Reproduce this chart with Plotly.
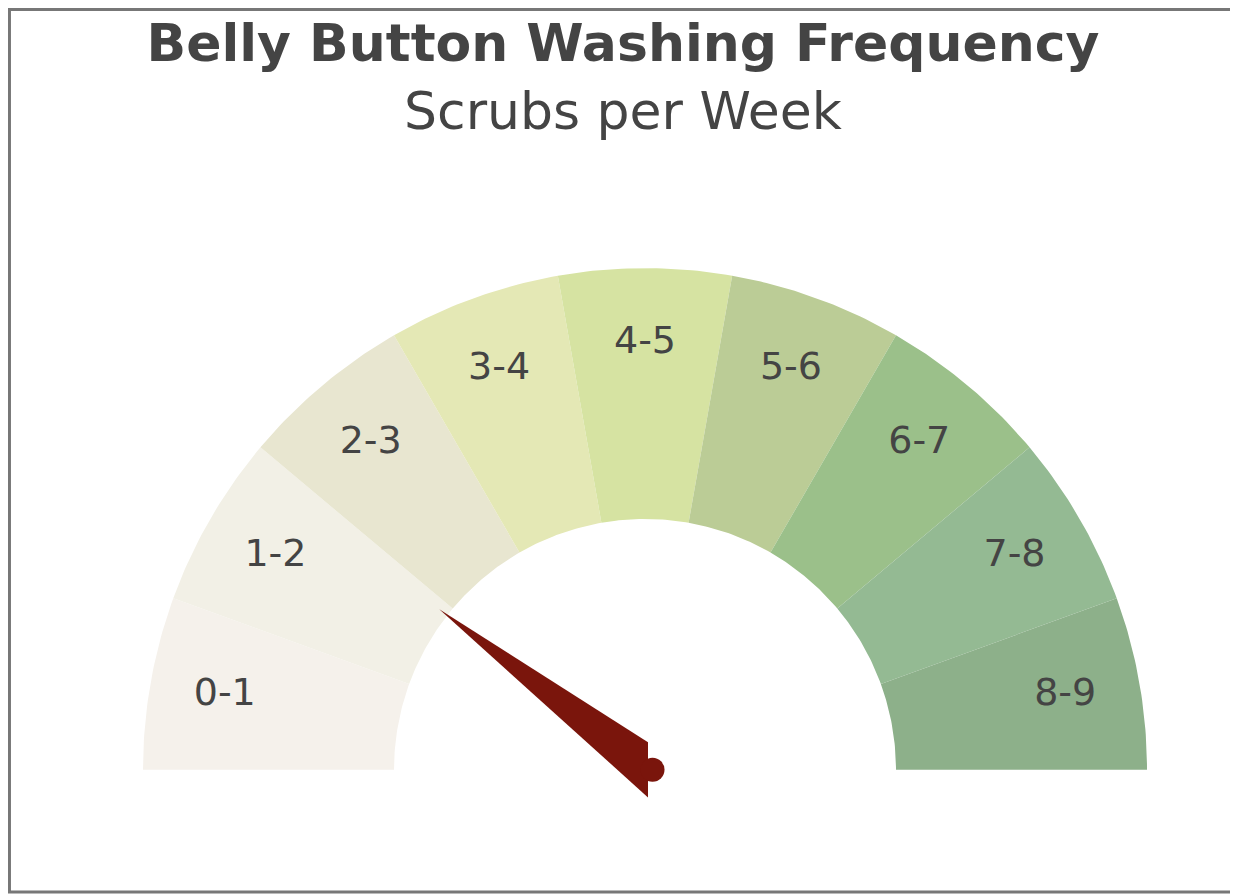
import math
import plotly.graph_objects as go

labels = ["0-1", "1-2", "2-3", "3-4", "4-5", "5-6", "6-7", "7-8", "8-9"]
colors = ["#F5F1EB", "#F2F0E6", "#E8E6D0", "#E4E8B5", "#D6E3A2",
          "#BBCC96", "#9BC08A", "#94BA93", "#8DB08A"]
wfreq = 1.9
max_val = 9
r_in, r_out, r_txt = 0.5, 1.0, 0.85

fig = go.Figure()
step = 180 / max_val
for i, (lab, col) in enumerate(zip(labels, colors)):
    a0 = 180 - step * i
    a1 = 180 - step * (i + 1)
    n = 30
    angs = [a0 + (a1 - a0) * k / n for k in range(n + 1)]
    xs = [r_out * math.cos(math.radians(a)) for a in angs] + \
         [r_in * math.cos(math.radians(a)) for a in reversed(angs)]
    ys = [r_out * math.sin(math.radians(a)) for a in angs] + \
         [r_in * math.sin(math.radians(a)) for a in reversed(angs)]
    fig.add_trace(go.Scatter(x=xs, y=ys, fill="toself", fillcolor=col,
                             mode="lines", line=dict(width=0), hoverinfo="skip",
                             showlegend=False))
    am = math.radians((a0 + a1) / 2)
    fig.add_trace(go.Scatter(x=[r_txt * math.cos(am)], y=[r_txt * math.sin(am)],
                             mode="text", text=[lab], showlegend=False,
                             textfont=dict(size=38, color="#444", family="DejaVu Sans")))

ang = math.radians(180 - wfreq * step)
tip_r = 0.52
base = 0.055
fig.add_trace(go.Scatter(
    x=[0.006, 0.006, tip_r * math.cos(ang), 0.006],
    y=[-base, base, tip_r * math.sin(ang), -base],
    fill="toself", fillcolor="#7A150C", mode="lines", line=dict(width=0, color="#7A150C"),
    showlegend=False, hoverinfo="skip"))
fig.add_trace(go.Scatter(x=[0.015], y=[0], mode="markers",
                         marker=dict(size=24, color="#7A150C"), showlegend=False,
                         hoverinfo="skip"))

fig.update_layout(
    width=1230, height=886,
    margin=dict(l=135, r=91, t=235, b=74),
    paper_bgcolor="white", plot_bgcolor="white",
    xaxis=dict(range=[-1, 1], visible=False, fixedrange=True),
    yaxis=dict(range=[-0.1, 1.05], visible=False, fixedrange=True),
    title=dict(text="<b>Belly Button Washing Frequency</b><br>Scrubs per Week",
               x=0.5, xanchor="center", y=0.94, yanchor="top",
               font=dict(size=52, color="#444", family="DejaVu Sans")),
    shapes=[dict(type="rect", xref="paper", yref="paper",
                 x0=-0.133, x1=1.089, y0=-0.1248, y1=1.4047,
                 line=dict(color="#777", width=3))],
)
fig.write_html("out.html")
